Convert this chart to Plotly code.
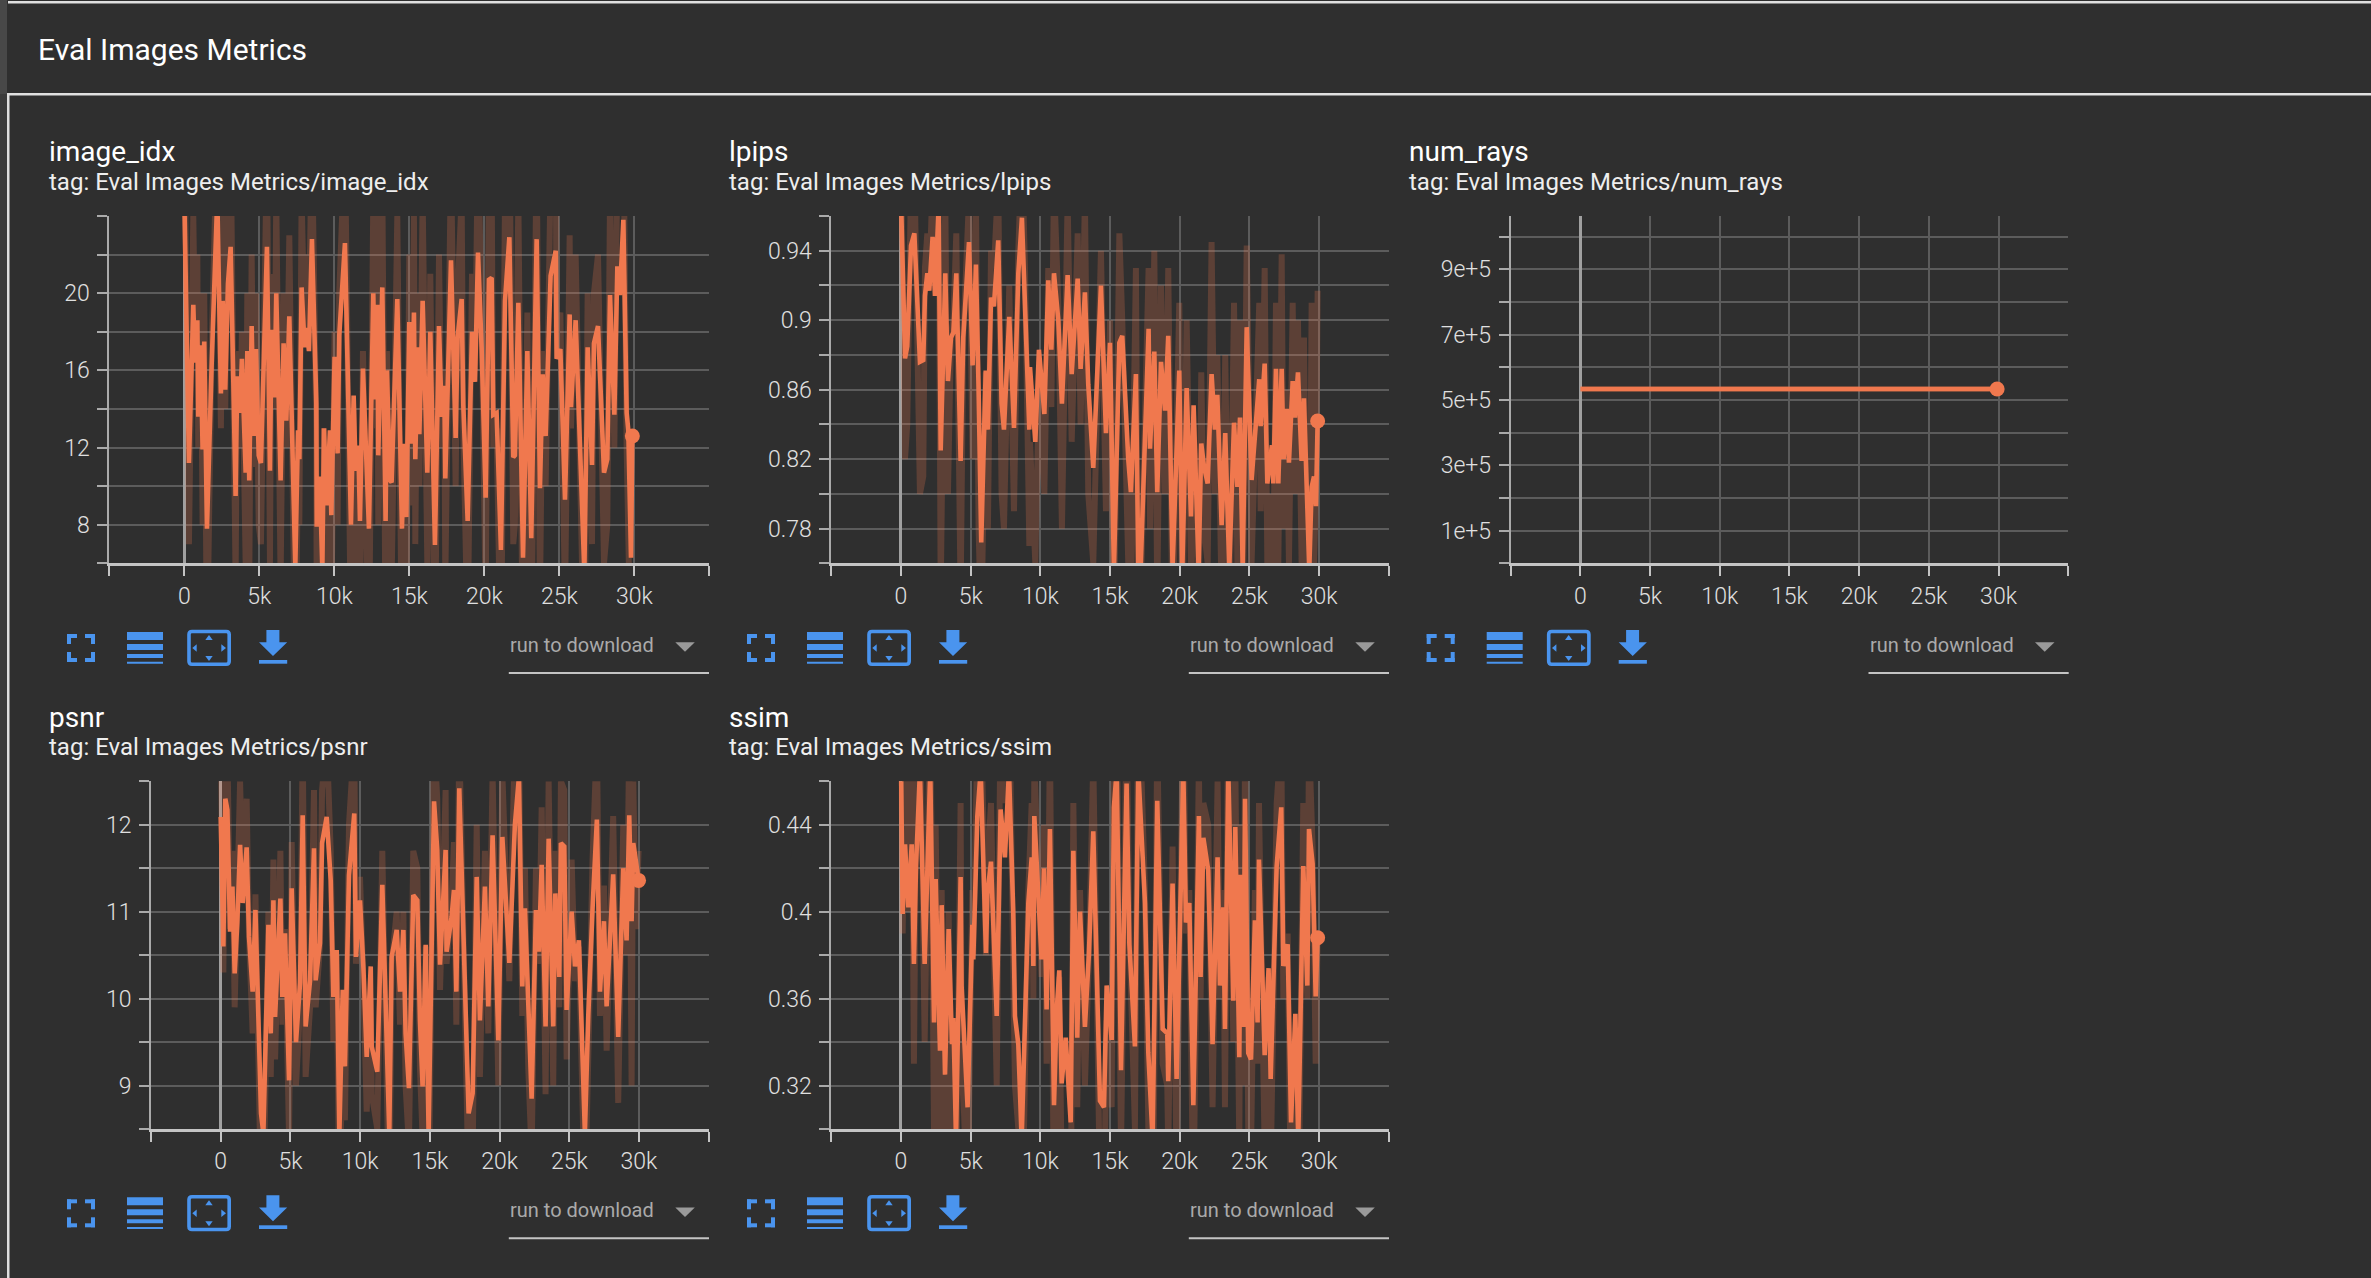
import plotly.graph_objects as go

W, H = 2371, 1278
BG = "#2f2f2f"
ORANGE = "#f0784e"
RAW = "rgba(240,120,78,0.23)"
BLUE = "#4a94ee"
FONT = "Roboto"

section_title = "Eval Images Metrics"
x_tick_vals = [-5000, 0, 5000, 10000, 15000, 20000, 25000, 30000, 35000]
x_tick_text = ["", "0", "5k", "10k", "15k", "20k", "25k", "30k", ""]

image_idx_steps = [
    0, 310, 600, 710, 870, 930, 1090, 1220, 1330, 1510,
    1820, 2200, 2440, 2560, 2730, 2910, 3090, 3420, 3530, 3710,
    3840, 4090, 4200, 4330, 4490, 4640, 4780, 4960, 5110, 5510,
    5710, 5820, 6020, 6130, 6420, 6620, 6800, 7000, 7400, 7580,
    7670, 7820, 8020, 8160, 8310, 8510, 8800, 8830, 9040, 9200,
    9310, 9490, 9710, 9800, 10020, 10220, 10330, 10710, 11110, 11290,
    11420, 11600, 11710, 11910, 12310, 12600, 12710, 12870, 12930, 13200,
    13420, 13510, 13710, 13820, 14200, 14510, 14670, 14800, 15000, 15130,
    15310, 15400, 15560, 15670, 15890, 16200, 16400, 16710, 16980, 17160,
    17330, 17400, 17780, 18090, 18220, 18490, 18600, 18890, 19180, 19380,
    19580, 19820, 20090, 20310, 20490, 20600, 20820, 21110, 21380, 21670,
    21930, 22040, 22270, 22580, 22870, 23130, 23490, 23710, 23890, 24090,
    24420, 24760, 24820, 25070, 25380, 25690, 25780, 26090, 26670, 26890,
    27180, 27310, 27580, 27980, 28200, 28380, 28670, 28870, 29040, 29270,
    29490, 29600, 29780, 29870,
]
image_idx_smooth = [
    25, 11.2, 19.4, 16.4, 18.6, 13.6, 17.3, 11.9, 17.5, 7.8,
    16.2, 25, 14.8, 19.6, 15, 20.5, 22.4, 9.5, 15.7, 13.8,
    16.6, 10.7, 17, 10.3, 18.3, 12.6, 17.1, 11.6, 11.2, 22.4,
    10.8, 18.1, 14.6, 20, 10.3, 17.4, 13.4, 18.8, 5.8, 12.9,
    11.4, 20.3, 17.2, 18.2, 17, 22.8, 14.3, 7.9, 10.5, 5.5,
    13, 9, 12.9, 8.5, 16.7, 11.7, 17.8, 22.6, 8, 14.7,
    10.8, 12.1, 8.2, 16.1, 7.8, 20, 14.5, 19.4, 11.6, 20.3,
    8.2, 16, 10.3, 10.2, 19.7, 7.8, 12.2, 8.4, 18.5, 12.2,
    19, 11.4, 17.2, 12.7, 19.6, 10.7, 18, 6.95, 18.3, 13.6,
    15.2, 10.4, 21.7, 12.5, 17.7, 19.7, 14.2, 8.2, 18, 15.4,
    22.1, 17.2, 9.4, 20.7, 20.8, 13.7, 13.8, 6.7, 19.6, 22.9,
    11.5, 11.6, 19.5, 6.3, 17, 7.3, 22.8, 9.9, 15.8, 12.6,
    20.9, 22.2, 16.6, 17.1, 9.3, 18.9, 14.1, 18.6, 5.5, 17.2,
    11.1, 17.4, 18.3, 10.7, 11.4, 19.9, 13.7, 21.4, 19.9, 23.8,
    13.8, 12.9, 6.3, 12.6,
]
image_idx_raw = [
    29, 7, 24, 18, 22, 12, 20, 8, 20, 1,
    17, 29, 13, 24, 14, 26, 28, 5, 17, 12,
    18, 6, 20, 5, 22, 11, 20, 8, 7, 28,
    6, 21, 14, 25, 5, 20, 12, 23, 0, 11,
    8, 25, 18, 22, 19, 28, 13, 2, 6, 0,
    13, 4, 12, 3, 18, 8, 20, 28, 2, 14,
    6, 9, 3, 17, 1, 25, 13, 24, 8, 26,
    2, 17, 5, 5, 24, 1, 9, 3, 22, 9,
    24, 7, 20, 10, 25, 6, 21, 1, 22, 12,
    16, 5, 27, 10, 20, 25, 13, 2, 21, 16,
    28, 19, 4, 26, 26, 12, 13, 0, 25, 29,
    7, 8, 25, 0, 19, 1, 28, 4, 17, 10,
    26, 28, 18, 19, 4, 23, 13, 22, 0, 20,
    7, 20, 22, 6, 8, 25, 12, 27, 25, 29,
    12, 10, 0, 6,
]

lpips_steps = [
    0, 290, 450, 720, 960, 1170, 1360, 1600, 1720, 1890,
    2030, 2270, 2440, 2700, 2850, 3180, 3370, 3590, 3760, 3970,
    4280, 4470, 4880, 5140, 5380, 5570, 5760, 6080, 6240, 6460,
    6670, 6980, 7220, 7390, 7770, 8110, 8420, 8680, 8900, 9210,
    9260, 9640, 9900, 10290, 10570, 10790, 10980, 11290, 11550, 11960,
    12250, 12680, 12890, 13200, 13440, 13800, 14350, 14710, 15000, 15280,
    15670, 15880, 16310, 16500, 16860, 17030, 17200, 17770, 17870, 18180,
    18390, 18660, 18950, 19180, 19490, 19970, 20190, 20500, 20810, 21000,
    21360, 21550, 21740, 22010, 22290, 22530, 22700, 23010, 23270, 23560,
    23900, 24140, 24330, 24520, 24810, 25160, 25710, 25810, 26100, 26290,
    26620, 26720, 26910, 27080, 27320, 27460, 27680, 27840, 28110, 28270,
    28490, 28750, 28920, 29060, 29300, 29470, 29640, 29780, 29900,
]
lpips_smooth = [
    .97, .878, .885, .943, .95, .902, .876, .877, .914, .927,
    .917, .948, .914, .965, .825, .927, .865, .89, .893, .927,
    .819, .89, .945, .874, .932, .86, .772, .871, .837, .913,
    .908, .946, .852, .837, .902, .838, .927, .959, .908, .837,
    .873, .83, .883, .846, .923, .883, .927, .9, .852, .926,
    .869, .924, .872, .916, .863, .815, .92, .835, .887, .755,
    .887, .891, .82, .801, .869, .757, .757, .895, .826, .882,
    .801, .876, .848, .891, .757, .871, .756, .861, .787, .851,
    .756, .829, .816, .806, .869, .837, .857, .782, .835, .757,
    .841, .804, .844, .757, .896, .808, .866, .839, .875, .806,
    .828, .806, .872, .806, .872, .82, .849, .818, .865, .844,
    .87, .819, .855, .818, .756, .804, .81, .793, .842,
]
lpips_raw = [
    1.0, .82, .84, .98, .99, .90, .80, .81, .93, .95,
    .92, .98, .92, 1.0, .74, .97, .80, .89, .90, .95,
    .74, .89, .97, .82, .97, .78, .72, .87, .78, .94,
    .93, .98, .80, .78, .92, .79, .94, 1.0, .93, .77,
    .83, .76, .86, .80, .93, .85, .98, .91, .78, .97,
    .83, .95, .84, .97, .80, .76, .94, .79, .90, .72,
    .95, .90, .76, .74, .93, .72, .74, .93, .78, .94,
    .74, .92, .80, .93, .72, .91, .72, .90, .76, .84,
    .73, .87, .78, .76, .945, .80, .88, .74, .88, .72,
    .91, .76, .90, .72, .943, .76, .91, .79, .93, .76,
    .80, .75, .91, .76, .938, .78, .86, .76, .91, .80,
    .90, .76, .89, .77, .72, .91, .76, .80, .917,
]

num_rays_steps = [0, 29900]
num_rays_smooth = [534000, 534000]
num_rays_raw = [534000, 534000]

psnr_steps = [
    0, 190, 330, 480, 670, 840, 1000, 1190, 1390, 1580,
    1860, 2030, 2290, 2490, 2890, 3060, 3420, 3590, 3780, 3900,
    4280, 4420, 4610, 4900, 5090, 5400, 5690, 5880, 6090, 6410,
    6690, 6810, 7120, 7270, 7600, 7890, 8080, 8320, 8510, 8750,
    8910, 9200, 9580, 9700, 9990, 10230, 10470, 10760, 10830, 11230,
    11590, 12090, 12260, 12620, 12860, 13100, 13260, 13500, 13810, 14100,
    14290, 14480, 14700, 14910, 15300, 15530, 15730, 16130, 16200, 16560,
    16730, 16900, 17110, 17400, 17780, 18070, 18360, 18590, 18950, 19190,
    19500, 19910, 20200, 20700, 21100, 21390, 21630, 21820, 22060, 22300,
    22610, 22820, 23020, 23300, 23520, 23850, 24000, 24280, 24400, 24640,
    24810, 25170, 25410, 25690, 26120, 26360, 26670, 26980, 27200, 27490,
    27680, 28150, 28510, 28870, 29110, 29300, 29470, 29590, 29780, 29970,
]
psnr_smooth = [
    12.09, 10.6, 12.3, 12.17, 10.77, 11.29, 10.29, 10.87, 11.77, 11.1,
    11.74, 10.71, 10.08, 11.02, 8.68, 8.45, 10.85, 9.6, 11.13, 9.79,
    11.15, 10.02, 10.75, 9.06, 11.27, 9.5, 10.18, 12.11, 9.68, 10.21,
    11.73, 10.21, 10.64, 11.79, 12.09, 11.36, 10.02, 10.56, 8.45, 10.1,
    9.22, 11.42, 12.13, 10.48, 11.13, 10.37, 9.33, 10.37, 9.45, 9.16,
    11.31, 8.45, 10.48, 10.79, 10.08, 10.79, 9.6, 8.97, 11.19, 11.13,
    9.75, 8.99, 10.62, 8.45, 12.27, 11.71, 10.39, 11.71, 10.54, 10.94,
    11.25, 10.08, 12.42, 10.75, 8.68, 8.91, 11.4, 9.75, 11.29, 9.91,
    11.88, 9.52, 11.86, 10.41, 12, 12.55, 10.14, 11.04, 9.75, 8.85,
    11.02, 10.54, 11.54, 9.68, 11.84, 9.68, 11.21, 10.25, 11.79, 11.75,
    9.87, 11, 10.37, 10.67, 8.45, 9.79, 11.04, 12.06, 10.08, 10.89,
    9.91, 11.43, 9.56, 11.5, 10.67, 12.11, 10.89, 11.79, 11.58, 11.36,
]
psnr_raw = [
    13, 10.3, 13, 12.9, 10.8, 11.7, 9.9, 11, 12.5, 11.2,
    12.3, 10.7, 9.6, 11.2, 7.7, 7.6, 11, 9.1, 11.6, 9.3,
    11.7, 9.7, 10.8, 8.4, 11.8, 9, 9.9, 13, 9.1, 9.9,
    12.4, 9.9, 10.6, 12.4, 13, 11.7, 9.5, 10.5, 7.5, 9.6,
    8.6, 12, 13, 10.4, 11.4, 10.2, 8.7, 10, 8.9, 8.5,
    11.7, 7.5, 10.4, 11, 9.7, 11, 9, 8.3, 11.7, 11.5,
    9.2, 8.4, 10.6, 7.5, 13, 12.3, 10.1, 12.4, 10.4, 11.1,
    11.8, 9.7, 13, 10.8, 7.8, 8.2, 12, 9.1, 11.7, 9.6,
    12.6, 9, 12.6, 10.2, 13, 13, 9.8, 11.5, 9.2, 8.2,
    11.5, 10.4, 12.2, 8.9, 12.5, 9, 11.7, 9.9, 12.5, 12.4,
    9.3, 11.6, 10.2, 10.6, 7.6, 9.3, 11.6, 13, 9.8, 11.3,
    9.4, 12.1, 8.8, 12, 10.5, 13, 9, 12.5, 10.8, 11.7,
]

ssim_steps = [
    0, 120, 290, 530, 770, 930, 1080, 1360, 1700, 1910,
    2100, 2370, 2490, 2800, 2920, 3160, 3420, 3660, 3760, 3950,
    4280, 4350, 4780, 5120, 5190, 5480, 5720, 6100, 6200, 6460,
    6870, 7150, 7460, 7750, 8060, 8180, 8420, 8660, 9140, 9380,
    9500, 9570, 10090, 10260, 10450, 10690, 10980, 11170, 11360, 11530,
    11820, 12180, 12370, 12650, 12850, 13200, 13490, 13800, 14280, 14570,
    14760, 15120, 15280, 15480, 15790, 16190, 16390, 16790, 17030, 17510,
    17750, 18060, 18390, 18780, 19110, 19180, 19490, 19780, 20260, 20450,
    20690, 20980, 21380, 21500, 21700, 22050, 22360, 22720, 22890, 23130,
    23250, 23490, 23850, 23990, 24280, 24370, 24570, 24690, 24920, 25120,
    25400, 25590, 25690, 26100, 26380, 26530, 26960, 27290, 27440, 27750,
    27990, 28300, 28510, 28870, 29160, 29280, 29540, 29760, 29900,
]
ssim_smooth = [
    .47, .399, .431, .402, .431, .376, .421, .465, .376, .425,
    .465, .349, .415, .336, .403, .325, .392, .339, .351, .295,
    .416, .366, .31, .394, .378, .444, .465, .381, .408, .423,
    .352, .447, .425, .465, .399, .352, .339, .295, .404, .425,
    .375, .444, .378, .42, .355, .438, .311, .354, .373, .321,
    .342, .303, .428, .342, .4, .347, .381, .437, .313, .31,
    .366, .341, .448, .465, .327, .459, .385, .338, .465, .404,
    .335, .295, .451, .346, .344, .322, .413, .323, .465, .395,
    .404, .311, .444, .37, .434, .419, .339, .425, .366, .402,
    .346, .465, .359, .439, .333, .417, .347, .452, .335, .332,
    .396, .349, .424, .334, .374, .323, .421, .448, .375, .385,
    .303, .353, .295, .421, .366, .438, .422, .361, .388,
]
ssim_raw = [
    .52, .39, .47, .40, .47, .33, .44, .50, .34, .45,
    .50, .30, .44, .28, .41, .27, .40, .29, .31, .26,
    .45, .34, .26, .41, .38, .48, .50, .38, .42, .45,
    .32, .49, .45, .51, .40, .32, .30, .24, .41, .45,
    .36, .47, .37, .44, .33, .48, .26, .32, .37, .28,
    .30, .25, .45, .31, .41, .32, .38, .47, .27, .26,
    .35, .31, .48, .50, .29, .49, .39, .30, .51, .41,
    .30, .24, .48, .33, .32, .29, .43, .28, .50, .39,
    .41, .26, .47, .36, .45, .44, .31, .46, .36, .41,
    .31, .50, .34, .47, .29, .44, .32, .48, .30, .29,
    .41, .33, .45, .29, .37, .28, .45, .48, .36, .39,
    .26, .33, .25, .45, .36, .48, .43, .33, .39,
]

image_idx_y_ticks = [6, 8, 10, 12, 14, 16, 18, 20, 22, 24]
image_idx_y_text = ["", "8", "", "12", "", "16", "", "20", "", ""]
lpips_y_ticks = [.76, .78, .80, .82, .84, .86, .88, .90, .92, .94, .96]
lpips_y_text = ["", "0.78", "", "0.82", "", "0.86", "", "0.9", "", "0.94", ""]
num_rays_y_ticks = [0, 1e5, 2e5, 3e5, 4e5, 5e5, 6e5, 7e5, 8e5, 9e5, 1e6]
num_rays_y_text = ["", "1e+5", "", "3e+5", "", "5e+5", "", "7e+5", "", "9e+5", ""]
psnr_y_ticks = [8.5, 9, 9.5, 10, 10.5, 11, 11.5, 12, 12.5]
psnr_y_text = ["", "9", "", "10", "", "11", "", "12", ""]
ssim_y_ticks = [.30, .32, .34, .36, .38, .40, .42, .44, .46]
ssim_y_text = ["", "0.32", "", "0.36", "", "0.4", "", "0.44", ""]

# name, steps, smooth, raw, y range, y ticks, y tick labels, plot box px (l, r, t, b), panel col, row
panels = [
    ("image_idx", image_idx_steps, image_idx_smooth, image_idx_raw, [6, 24], image_idx_y_ticks, image_idx_y_text, (109.3, 709.3, 216, 563.4), 0, 0),
    ("lpips", lpips_steps, lpips_smooth, lpips_raw, [.76, .96], lpips_y_ticks, lpips_y_text, (831.3, 1388.7, 216, 563.4), 1, 0),
    ("num_rays", num_rays_steps, num_rays_smooth, num_rays_raw, [0, 1.0635e6], num_rays_y_ticks, num_rays_y_text, (1510.7, 2068.2, 216, 563.4), 2, 0),
    ("psnr", psnr_steps, psnr_smooth, psnr_raw, [8.5, 12.5], psnr_y_ticks, psnr_y_text, (151, 708.7, 781.3, 1129), 0, 1),
    ("ssim", ssim_steps, ssim_smooth, ssim_raw, [.30, .46], ssim_y_ticks, ssim_y_text, (831.3, 1388.7, 781.3, 1129), 1, 1),
]
COL_DX = [0, 680, 1359.7]
ROW_DY = [0, 565.3]


def px(x):
    return x / W


def py(y):
    return 1 - y / H


def rect(x0, y0, x1, y1, fill):
    return dict(type="rect", xref="paper", yref="paper", x0=px(x0), x1=px(x1), y0=py(y0), y1=py(y1),
                fillcolor=fill, line=dict(width=0), layer="below")


def poly(points, fill):
    d = "M" + " L".join(f"{px(a):.5f},{py(b):.5f}" for a, b in points) + " Z"
    return dict(type="path", xref="paper", yref="paper", path=d, fillcolor=fill, line=dict(width=0))


def note(x, y, text, size, color="#f2f2f2", weight=400):
    return dict(x=px(x), y=py(y), xref="paper", yref="paper", text=text, showarrow=False,
                xanchor="left", yanchor="middle", align="left",
                font=dict(family=FONT, size=size, color=color, weight=weight))


def icons(dx, dy):
    out = []
    # fullscreen corners
    xa, xb, ya, yb, t, arm = 67 + dx, 95 + dx, 634 + dy, 662 + dy, 4, 10
    out += [rect(xa, ya, xa + arm, ya + t, BLUE), rect(xa, ya, xa + t, ya + arm, BLUE),
            rect(xb - arm, ya, xb, ya + t, BLUE), rect(xb - t, ya, xb, ya + arm, BLUE),
            rect(xa, yb - t, xa + arm, yb, BLUE), rect(xa, yb - arm, xa + t, yb, BLUE),
            rect(xb - arm, yb - t, xb, yb, BLUE), rect(xb - t, yb - arm, xb, yb, BLUE)]
    # list bars
    for y0, y1 in [(632, 640), (644, 650), (654, 658), (661.7, 663.7)]:
        out.append(rect(127 + dx, y0 + dy, 163 + dx, y1 + dy, BLUE))
    # fit-to-domain box
    a, b, c, d, r = 189 + dx, 229.2 + dx, 631.5 + dy, 664.2 + dy, 3
    path = (f"M{px(a + r):.5f},{py(c):.5f} L{px(b - r):.5f},{py(c):.5f} Q{px(b):.5f},{py(c):.5f} {px(b):.5f},{py(c + r):.5f} "
            f"L{px(b):.5f},{py(d - r):.5f} Q{px(b):.5f},{py(d):.5f} {px(b - r):.5f},{py(d):.5f} "
            f"L{px(a + r):.5f},{py(d):.5f} Q{px(a):.5f},{py(d):.5f} {px(a):.5f},{py(d - r):.5f} "
            f"L{px(a):.5f},{py(c + r):.5f} Q{px(a):.5f},{py(c):.5f} {px(a + r):.5f},{py(c):.5f} Z")
    out.append(dict(type="path", xref="paper", yref="paper", path=path, line=dict(color=BLUE, width=3.6)))
    out.append(poly([(209 + dx, 635 + dy), (212.7 + dx, 640 + dy), (205.3 + dx, 640 + dy)], BLUE))
    out.append(poly([(209 + dx, 661 + dy), (212.7 + dx, 656 + dy), (205.3 + dx, 656 + dy)], BLUE))
    out.append(poly([(192.3 + dx, 648 + dy), (196.7 + dx, 644.3 + dy), (196.7 + dx, 651.7 + dy)], BLUE))
    out.append(poly([(226 + dx, 648 + dy), (221.3 + dx, 644.3 + dy), (221.3 + dx, 651.7 + dy)], BLUE))
    # download arrow
    out.append(poly([(266.4 + dx, 630 + dy), (279.4 + dx, 630 + dy), (279.4 + dx, 642.3 + dy), (287.2 + dx, 642.3 + dy),
                     (273 + dx, 656 + dy), (259 + dx, 642.3 + dy), (266.4 + dx, 642.3 + dy)], BLUE))
    out.append(rect(259 + dx, 660 + dy, 287.2 + dx, 663.7 + dy, BLUE))
    # dropdown
    out.append(poly([(675.3 + dx, 642.3 + dy), (694.8 + dx, 642.3 + dy), (685 + dx, 651.7 + dy)], "#9a9a9a"))
    out.append(rect(508.8 + dx, 672 + dy, 709 + dx, 674 + dy, "#c4c4c4"))
    return out


fig = go.Figure()
shapes = [
    rect(0, 0, 7, 94, "#484848"),
    rect(0, 94, 7, H, "#3c3c3c"),
    rect(7, 94, 9.5, H, "#e0e0e0"),
    rect(8, 1, W, 3.4, "#e0e0e0"),
    rect(7, 93, W, 95.4, "#e0e0e0"),
]
notes = [note(36, 49, section_title, 30, "#ffffff", 400)]
layout_axes = {}

for i, (name, steps, smooth, raw, yr, yt, ytt, box, col, row) in enumerate(panels, start=1):
    xn, yn = ("x", "y") if i == 1 else (f"x{i}", f"y{i}")
    fig.add_trace(go.Scatter(x=steps, y=raw, mode="lines", xaxis=xn, yaxis=yn, showlegend=False, hoverinfo="skip",
                             line=dict(color=RAW, width=6)))
    fig.add_trace(go.Scatter(x=steps, y=smooth, mode="lines", xaxis=xn, yaxis=yn, showlegend=False,
                             line=dict(color=ORANGE, width=4.6)))
    fig.add_trace(go.Scatter(x=steps[-1:], y=smooth[-1:], mode="markers", xaxis=xn, yaxis=yn, showlegend=False,
                             marker=dict(color=ORANGE, size=15), cliponaxis=False))
    l, r, t, b = box
    suffix = "" if i == 1 else str(i)
    layout_axes["xaxis" + suffix] = dict(
        domain=[px(l), px(r)], range=[-5000, 35000], anchor=yn, tickmode="array",
        tickvals=x_tick_vals, ticktext=x_tick_text, ticks="outside", ticklen=10, tickwidth=2, tickcolor="#c4c4c4",
        showline=True, linecolor="#c4c4c4", linewidth=2.5, showgrid=True, gridcolor="#5c5c5c", gridwidth=1.5,
        zeroline=True, zerolinecolor="#a0a0a0", zerolinewidth=2.5,
        tickfont=dict(family=FONT, size=23, color="#e0e0e0", weight=300), ticklabelstandoff=0,
    )
    layout_axes["yaxis" + suffix] = dict(
        domain=[py(b), py(t)], range=yr, anchor=xn, tickmode="array",
        tickvals=yt, ticktext=ytt, ticks="outside", ticklen=10, tickwidth=2, tickcolor="#aaaaaa",
        showline=True, linecolor="#aaaaaa", linewidth=2, showgrid=True, gridcolor="#5c5c5c", gridwidth=1.5,
        zeroline=False,
        tickfont=dict(family=FONT, size=23, color="#e0e0e0", weight=300), ticklabelstandoff=3,
    )
    dx, dy = COL_DX[col], ROW_DY[row]
    notes.append(note(47 + dx, 152 + dy, name, 28, "#ffffff", 400))
    notes.append(note(47 + dx, 182 + dy, f"tag: {section_title}/{name}", 24, "#eeeeee", 400))
    notes.append(note(508 + dx, 645 + dy, "run to download", 20, "#aaaaaa", 400))
    shapes += icons(dx, dy)

fig.update_layout(
    width=W, height=H, autosize=False, margin=dict(l=0, r=0, t=0, b=0, pad=0),
    paper_bgcolor=BG, plot_bgcolor=BG, showlegend=False, shapes=shapes, annotations=notes,
    font=dict(family=FONT), **layout_axes,
)

fig.write_html("out.html", config=dict(displayModeBar=False),
               post_script="document.body.style.margin='0';document.body.style.background='#2f2f2f';document.documentElement.style.overflow='hidden';")
